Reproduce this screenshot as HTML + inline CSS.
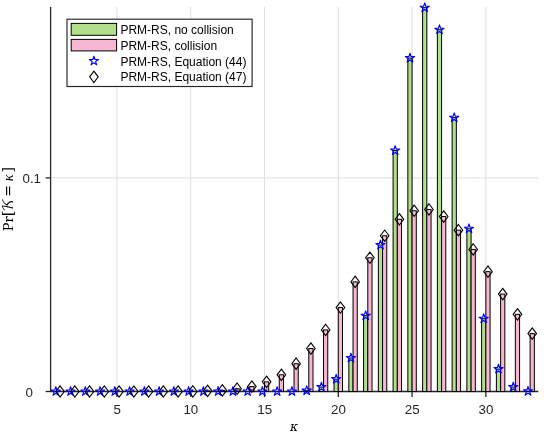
<!DOCTYPE html>
<html><head><meta charset="utf-8"><title>PRM-RS</title>
<style>html,body{margin:0;padding:0;background:#fff}svg{display:block}text{font-family:"Liberation Sans",sans-serif;fill:#262626}.lg{fill:#000}.m{font-family:"Liberation Serif","DejaVu Serif",serif;fill:#000}</style></head><body>
<svg width="550" height="435" viewBox="0 0 550 435">
<rect width="550" height="435" fill="#fff"/>
<g stroke="#dfdfdf" stroke-width="1" fill="none">
<line x1="116.95" y1="7.0" x2="116.95" y2="391.5"/>
<line x1="190.73" y1="7.0" x2="190.73" y2="391.5"/>
<line x1="264.51" y1="7.0" x2="264.51" y2="391.5"/>
<line x1="338.29" y1="7.0" x2="338.29" y2="391.5"/>
<line x1="412.07" y1="7.0" x2="412.07" y2="391.5"/>
<line x1="485.85" y1="7.0" x2="485.85" y2="391.5"/>
<line x1="50.6" y1="177.90" x2="538.3" y2="177.90"/>
</g>
<g stroke="#262626" stroke-width="1.3" fill="none">
<line x1="50.6" y1="7.0" x2="50.6" y2="392.05"/>
<line x1="50.050000000000004" y1="391.5" x2="538.3" y2="391.5"/>
<line x1="116.95" y1="391.5" x2="116.95" y2="397.0"/>
<line x1="190.73" y1="391.5" x2="190.73" y2="397.0"/>
<line x1="264.51" y1="391.5" x2="264.51" y2="397.0"/>
<line x1="338.29" y1="391.5" x2="338.29" y2="397.0"/>
<line x1="412.07" y1="391.5" x2="412.07" y2="397.0"/>
<line x1="485.85" y1="391.5" x2="485.85" y2="397.0"/>
<line x1="50.6" y1="391.50" x2="45.6" y2="391.50"/>
<line x1="50.6" y1="177.90" x2="45.6" y2="177.90"/>
</g>
<g font-size="13.33">
<text x="117.10" y="414.3" text-anchor="middle">5</text>
<text x="190.88" y="414.3" text-anchor="middle">10</text>
<text x="264.66" y="414.3" text-anchor="middle">15</text>
<text x="338.44" y="414.3" text-anchor="middle">20</text>
<text x="412.22" y="414.3" text-anchor="middle">25</text>
<text x="486.00" y="414.3" text-anchor="middle">30</text>
<text x="25.45" y="397.05">0</text>
<text x="22.5" y="183.10">0.1</text>
</g>
<text class="m" x="294.1" y="431.4" font-size="12.3" font-style="italic" text-anchor="middle" style="font-family:'DejaVu Serif','Liberation Serif',serif">κ</text>
<text class="m" transform="translate(12.9,231) rotate(-90)" font-size="13" style="font-family:'DejaVu Serif','Liberation Serif',serif"><tspan x="-0.3">Pr</tspan><tspan x="14.8" dy="0.3" font-size="15">[</tspan><tspan x="19.3" dy="-0.3" font-size="14.5" style="font-family:'DejaVu Math TeX Gyre','DejaVu Serif',serif">𝒦</tspan><tspan x="34.2" font-size="14">=</tspan><tspan x="49.8" font-size="14.5" font-style="italic" style="font-family:'Liberation Serif','DejaVu Serif',serif">κ</tspan><tspan x="58.2" dy="0.3" font-size="15">]</tspan></text>
<g stroke="#000" stroke-width="1">
<rect x="53.71" y="391.50" width="4.22" height="0.00" fill="#b2df8a"/>
<rect x="57.93" y="391.50" width="4.22" height="0.00" fill="#f7b6d2"/>
<rect x="68.46" y="391.50" width="4.22" height="0.00" fill="#b2df8a"/>
<rect x="72.68" y="391.50" width="4.22" height="0.00" fill="#f7b6d2"/>
<rect x="83.22" y="391.50" width="4.22" height="0.00" fill="#b2df8a"/>
<rect x="87.44" y="391.50" width="4.22" height="0.00" fill="#f7b6d2"/>
<rect x="97.97" y="391.50" width="4.22" height="0.00" fill="#b2df8a"/>
<rect x="102.19" y="391.50" width="4.22" height="0.00" fill="#f7b6d2"/>
<rect x="112.73" y="391.50" width="4.22" height="0.00" fill="#b2df8a"/>
<rect x="116.95" y="391.50" width="4.22" height="0.00" fill="#f7b6d2"/>
<rect x="127.49" y="391.50" width="4.22" height="0.00" fill="#b2df8a"/>
<rect x="131.71" y="391.50" width="4.22" height="0.00" fill="#f7b6d2"/>
<rect x="142.24" y="391.50" width="4.22" height="0.00" fill="#b2df8a"/>
<rect x="146.46" y="391.50" width="4.22" height="0.00" fill="#f7b6d2"/>
<rect x="157.00" y="391.50" width="4.22" height="0.00" fill="#b2df8a"/>
<rect x="161.22" y="391.50" width="4.22" height="0.00" fill="#f7b6d2"/>
<rect x="171.75" y="391.50" width="4.22" height="0.00" fill="#b2df8a"/>
<rect x="175.97" y="391.50" width="4.22" height="0.00" fill="#f7b6d2"/>
<rect x="186.51" y="391.50" width="4.22" height="0.00" fill="#b2df8a"/>
<rect x="190.73" y="391.46" width="4.22" height="0.04" fill="#f7b6d2"/>
<rect x="201.27" y="391.50" width="4.22" height="0.00" fill="#b2df8a"/>
<rect x="205.49" y="390.82" width="4.22" height="0.68" fill="#f7b6d2"/>
<rect x="216.02" y="391.50" width="4.22" height="0.00" fill="#b2df8a"/>
<rect x="220.24" y="390.39" width="4.22" height="1.11" fill="#f7b6d2"/>
<rect x="230.78" y="391.50" width="4.22" height="0.00" fill="#b2df8a"/>
<rect x="235.00" y="388.68" width="4.22" height="2.82" fill="#f7b6d2"/>
<rect x="245.53" y="391.50" width="4.22" height="0.00" fill="#b2df8a"/>
<rect x="249.75" y="386.55" width="4.22" height="4.95" fill="#f7b6d2"/>
<rect x="260.29" y="391.50" width="4.22" height="0.00" fill="#b2df8a"/>
<rect x="264.51" y="381.85" width="4.22" height="9.65" fill="#f7b6d2"/>
<rect x="275.05" y="391.50" width="4.22" height="0.00" fill="#b2df8a"/>
<rect x="279.27" y="374.80" width="4.22" height="16.70" fill="#f7b6d2"/>
<rect x="289.80" y="391.50" width="4.22" height="0.00" fill="#b2df8a"/>
<rect x="294.02" y="363.69" width="4.22" height="27.81" fill="#f7b6d2"/>
<rect x="304.56" y="390.67" width="4.22" height="0.83" fill="#b2df8a"/>
<rect x="308.78" y="348.53" width="4.22" height="42.97" fill="#f7b6d2"/>
<rect x="319.31" y="387.04" width="4.22" height="4.46" fill="#b2df8a"/>
<rect x="323.53" y="329.94" width="4.22" height="61.56" fill="#f7b6d2"/>
<rect x="334.07" y="379.13" width="4.22" height="12.37" fill="#b2df8a"/>
<rect x="338.29" y="307.51" width="4.22" height="83.99" fill="#f7b6d2"/>
<rect x="348.83" y="357.99" width="4.22" height="33.51" fill="#b2df8a"/>
<rect x="353.05" y="281.88" width="4.22" height="109.62" fill="#f7b6d2"/>
<rect x="363.58" y="315.69" width="4.22" height="75.81" fill="#b2df8a"/>
<rect x="367.80" y="257.75" width="4.22" height="133.75" fill="#f7b6d2"/>
<rect x="378.34" y="244.99" width="4.22" height="146.51" fill="#b2df8a"/>
<rect x="382.56" y="235.74" width="4.22" height="155.76" fill="#f7b6d2"/>
<rect x="393.09" y="150.58" width="4.22" height="240.92" fill="#b2df8a"/>
<rect x="397.31" y="219.30" width="4.22" height="172.20" fill="#f7b6d2"/>
<rect x="407.85" y="58.09" width="4.22" height="333.41" fill="#b2df8a"/>
<rect x="412.07" y="210.75" width="4.22" height="180.75" fill="#f7b6d2"/>
<rect x="422.61" y="7.68" width="4.22" height="383.82" fill="#b2df8a"/>
<rect x="426.83" y="209.47" width="4.22" height="182.03" fill="#f7b6d2"/>
<rect x="437.36" y="29.68" width="4.22" height="361.82" fill="#b2df8a"/>
<rect x="441.58" y="216.52" width="4.22" height="174.98" fill="#f7b6d2"/>
<rect x="452.12" y="117.69" width="4.22" height="273.81" fill="#b2df8a"/>
<rect x="456.34" y="230.19" width="4.22" height="161.31" fill="#f7b6d2"/>
<rect x="466.87" y="228.76" width="4.22" height="162.74" fill="#b2df8a"/>
<rect x="471.09" y="249.42" width="4.22" height="142.08" fill="#f7b6d2"/>
<rect x="481.63" y="318.69" width="4.22" height="72.81" fill="#b2df8a"/>
<rect x="485.85" y="271.63" width="4.22" height="119.87" fill="#f7b6d2"/>
<rect x="496.39" y="369.09" width="4.22" height="22.41" fill="#b2df8a"/>
<rect x="500.61" y="294.06" width="4.22" height="97.44" fill="#f7b6d2"/>
<rect x="511.14" y="387.04" width="4.22" height="4.46" fill="#b2df8a"/>
<rect x="515.36" y="314.35" width="4.22" height="77.15" fill="#f7b6d2"/>
<rect x="525.90" y="391.31" width="4.22" height="0.19" fill="#b2df8a"/>
<rect x="530.12" y="333.57" width="4.22" height="57.93" fill="#f7b6d2"/>
</g>
<g stroke="#0000ff" stroke-width="1.15" fill="none" stroke-linejoin="round">
<polygon points="55.82,386.70 56.89,390.02 60.38,390.02 57.56,392.07 58.64,395.38 55.82,393.33 52.99,395.38 54.07,392.07 51.25,390.02 54.74,390.02"/>
<polygon points="70.57,386.70 71.65,390.02 75.14,390.02 72.32,392.07 73.39,395.38 70.57,393.33 67.75,395.38 68.83,392.07 66.01,390.02 69.49,390.02"/>
<polygon points="85.33,386.70 86.41,390.02 89.89,390.02 87.07,392.07 88.15,395.38 85.33,393.33 82.51,395.38 83.58,392.07 80.76,390.02 84.25,390.02"/>
<polygon points="100.08,386.70 101.16,390.02 104.65,390.02 101.83,392.07 102.91,395.38 100.08,393.33 97.26,395.38 98.34,392.07 95.52,390.02 99.01,390.02"/>
<polygon points="114.84,386.70 115.92,390.02 119.41,390.02 116.58,392.07 117.66,395.38 114.84,393.33 112.02,395.38 113.10,392.07 110.27,390.02 113.76,390.02"/>
<polygon points="129.60,386.70 130.67,390.02 134.16,390.02 131.34,392.07 132.42,395.38 129.60,393.33 126.77,395.38 127.85,392.07 125.03,390.02 128.52,390.02"/>
<polygon points="144.35,386.70 145.43,390.02 148.92,390.02 146.10,392.07 147.17,395.38 144.35,393.33 141.53,395.38 142.61,392.07 139.79,390.02 143.27,390.02"/>
<polygon points="159.11,386.70 160.19,390.02 163.67,390.02 160.85,392.07 161.93,395.38 159.11,393.33 156.29,395.38 157.36,392.07 154.54,390.02 158.03,390.02"/>
<polygon points="173.86,386.70 174.94,390.02 178.43,390.02 175.61,392.07 176.69,395.38 173.86,393.33 171.04,395.38 172.12,392.07 169.30,390.02 172.79,390.02"/>
<polygon points="188.62,386.70 189.70,390.02 193.19,390.02 190.36,392.07 191.44,395.38 188.62,393.33 185.80,395.38 186.88,392.07 184.05,390.02 187.54,390.02"/>
<polygon points="203.38,386.70 204.45,390.02 207.94,390.02 205.12,392.07 206.20,395.38 203.38,393.33 200.55,395.38 201.63,392.07 198.81,390.02 202.30,390.02"/>
<polygon points="218.13,386.70 219.21,390.02 222.70,390.02 219.88,392.07 220.95,395.38 218.13,393.33 215.31,395.38 216.39,392.07 213.57,390.02 217.05,390.02"/>
<polygon points="232.89,386.70 233.97,390.02 237.45,390.02 234.63,392.07 235.71,395.38 232.89,393.33 230.07,395.38 231.14,392.07 228.32,390.02 231.81,390.02"/>
<polygon points="247.64,386.70 248.72,390.02 252.21,390.02 249.39,392.07 250.47,395.38 247.64,393.33 244.82,395.38 245.90,392.07 243.08,390.02 246.57,390.02"/>
<polygon points="262.40,386.70 263.48,390.02 266.97,390.02 264.14,392.07 265.22,395.38 262.40,393.33 259.58,395.38 260.66,392.07 257.83,390.02 261.32,390.02"/>
<polygon points="277.16,386.70 278.23,390.02 281.72,390.02 278.90,392.07 279.98,395.38 277.16,393.33 274.33,395.38 275.41,392.07 272.59,390.02 276.08,390.02"/>
<polygon points="291.91,386.70 292.99,390.02 296.48,390.02 293.66,392.07 294.73,395.38 291.91,393.33 289.09,395.38 290.17,392.07 287.35,390.02 290.83,390.02"/>
<polygon points="306.67,385.87 307.75,389.18 311.23,389.19 308.41,391.24 309.49,394.55 306.67,392.50 303.85,394.55 304.92,391.24 302.10,389.19 305.59,389.18"/>
<polygon points="321.42,382.24 322.50,385.55 325.99,385.55 323.17,387.60 324.25,390.92 321.42,388.87 318.60,390.92 319.68,387.60 316.86,385.55 320.35,385.55"/>
<polygon points="336.18,374.33 337.26,377.65 340.75,377.65 337.92,379.70 339.00,383.02 336.18,380.97 333.36,383.02 334.44,379.70 331.61,377.65 335.10,377.65"/>
<polygon points="350.94,353.19 352.01,356.50 355.50,356.50 352.68,358.55 353.76,361.87 350.94,359.82 348.11,361.87 349.19,358.55 346.37,356.50 349.86,356.50"/>
<polygon points="365.69,310.89 366.77,314.21 370.26,314.21 367.44,316.26 368.51,319.58 365.69,317.53 362.87,319.58 363.95,316.26 361.13,314.21 364.61,314.21"/>
<polygon points="380.45,240.19 381.53,243.51 385.01,243.51 382.19,245.56 383.27,248.88 380.45,246.83 377.63,248.88 378.70,245.56 375.88,243.51 379.37,243.51"/>
<polygon points="395.20,145.78 396.28,149.10 399.77,149.10 396.95,151.15 398.03,154.47 395.20,152.42 392.38,154.47 393.46,151.15 390.64,149.10 394.13,149.10"/>
<polygon points="409.96,53.29 411.04,56.61 414.53,56.61 411.70,58.66 412.78,61.98 409.96,59.93 407.14,61.98 408.22,58.66 405.39,56.61 408.88,56.61"/>
<polygon points="424.72,2.88 425.79,6.20 429.28,6.20 426.46,8.25 427.54,11.57 424.72,9.52 421.89,11.57 422.97,8.25 420.15,6.20 423.64,6.20"/>
<polygon points="439.47,24.88 440.55,28.20 444.04,28.20 441.22,30.25 442.29,33.57 439.47,31.52 436.65,33.57 437.73,30.25 434.91,28.20 438.39,28.20"/>
<polygon points="454.23,112.89 455.31,116.20 458.79,116.20 455.97,118.25 457.05,121.57 454.23,119.52 451.41,121.57 452.48,118.25 449.66,116.20 453.15,116.20"/>
<polygon points="468.98,223.96 470.06,227.28 473.55,227.28 470.73,229.33 471.81,232.64 468.98,230.59 466.16,232.64 467.24,229.33 464.42,227.28 467.91,227.28"/>
<polygon points="483.74,313.89 484.82,317.20 488.31,317.20 485.48,319.25 486.56,322.57 483.74,320.52 480.92,322.57 482.00,319.25 479.17,317.20 482.66,317.20"/>
<polygon points="498.50,364.29 499.57,367.61 503.06,367.61 500.24,369.66 501.32,372.98 498.50,370.93 495.67,372.98 496.75,369.66 493.93,367.61 497.42,367.61"/>
<polygon points="513.25,382.24 514.33,385.55 517.82,385.55 515.00,387.60 516.07,390.92 513.25,388.87 510.43,390.92 511.51,387.60 508.69,385.55 512.17,385.55"/>
<polygon points="528.01,386.51 529.09,389.83 532.57,389.83 529.75,391.88 530.83,395.19 528.01,393.14 525.19,395.19 526.26,391.88 523.44,389.83 526.93,389.83"/>
</g>
<g stroke="#000" stroke-width="1.1" fill="none">
<polygon points="60.04,385.80 64.34,391.50 60.04,397.20 55.74,391.50"/>
<polygon points="74.79,385.80 79.09,391.50 74.79,397.20 70.49,391.50"/>
<polygon points="89.55,385.80 93.85,391.50 89.55,397.20 85.25,391.50"/>
<polygon points="104.30,385.80 108.60,391.50 104.30,397.20 100.00,391.50"/>
<polygon points="119.06,385.80 123.36,391.50 119.06,397.20 114.76,391.50"/>
<polygon points="133.82,385.80 138.12,391.50 133.82,397.20 129.52,391.50"/>
<polygon points="148.57,385.80 152.87,391.50 148.57,397.20 144.27,391.50"/>
<polygon points="163.33,385.80 167.63,391.50 163.33,397.20 159.03,391.50"/>
<polygon points="178.08,385.80 182.38,391.50 178.08,397.20 173.78,391.50"/>
<polygon points="192.84,385.76 197.14,391.46 192.84,397.16 188.54,391.46"/>
<polygon points="207.60,385.12 211.90,390.82 207.60,396.52 203.30,390.82"/>
<polygon points="222.35,384.69 226.65,390.39 222.35,396.09 218.05,390.39"/>
<polygon points="237.11,382.98 241.41,388.68 237.11,394.38 232.81,388.68"/>
<polygon points="251.86,380.85 256.16,386.55 251.86,392.25 247.56,386.55"/>
<polygon points="266.62,376.15 270.92,381.85 266.62,387.55 262.32,381.85"/>
<polygon points="281.38,369.10 285.68,374.80 281.38,380.50 277.08,374.80"/>
<polygon points="296.13,357.99 300.43,363.69 296.13,369.39 291.83,363.69"/>
<polygon points="310.89,342.83 315.19,348.53 310.89,354.23 306.59,348.53"/>
<polygon points="325.64,324.24 329.94,329.94 325.64,335.64 321.34,329.94"/>
<polygon points="340.40,301.81 344.70,307.51 340.40,313.21 336.10,307.51"/>
<polygon points="355.16,276.18 359.46,281.88 355.16,287.58 350.86,281.88"/>
<polygon points="369.91,252.05 374.21,257.75 369.91,263.45 365.61,257.75"/>
<polygon points="384.67,230.04 388.97,235.74 384.67,241.44 380.37,235.74"/>
<polygon points="399.42,213.60 403.72,219.30 399.42,225.00 395.12,219.30"/>
<polygon points="414.18,205.05 418.48,210.75 414.18,216.45 409.88,210.75"/>
<polygon points="428.94,203.77 433.24,209.47 428.94,215.17 424.64,209.47"/>
<polygon points="443.69,210.82 447.99,216.52 443.69,222.22 439.39,216.52"/>
<polygon points="458.45,224.49 462.75,230.19 458.45,235.89 454.15,230.19"/>
<polygon points="473.20,243.72 477.50,249.42 473.20,255.12 468.90,249.42"/>
<polygon points="487.96,265.93 492.26,271.63 487.96,277.33 483.66,271.63"/>
<polygon points="502.72,288.36 507.02,294.06 502.72,299.76 498.42,294.06"/>
<polygon points="517.47,308.65 521.77,314.35 517.47,320.05 513.17,314.35"/>
<polygon points="532.23,327.87 536.53,333.57 532.23,339.27 527.93,333.57"/>
</g>
<rect x="67.0" y="19.2" width="185.1" height="67.3" fill="#fff" stroke="#262626" stroke-width="1.15"/>
<rect x="71.2" y="23.4" width="45.4" height="11.9" fill="#b2df8a" stroke="#000" stroke-width="1"/>
<rect x="71.2" y="39.4" width="45.4" height="11.5" fill="#f7b6d2" stroke="#000" stroke-width="1"/>
<g stroke="#0000ff" stroke-width="1.15" fill="none" stroke-linejoin="round"><polygon points="93.90,56.20 94.98,59.52 98.47,59.52 95.64,61.57 96.72,64.88 93.90,62.83 91.08,64.88 92.16,61.57 89.33,59.52 92.82,59.52"/></g>
<g stroke="#000" stroke-width="1.1" fill="none"><polygon points="93.90,71.10 98.20,76.80 93.90,82.50 89.60,76.80"/></g>
<g font-size="12" style="fill:#000">
<text class="lg" x="120.4" y="33.50">PRM-RS, no collision</text>
<text class="lg" x="120.4" y="49.70">PRM-RS, collision</text>
<text class="lg" x="120.4" y="65.80">PRM-RS, Equation (44)</text>
<text class="lg" x="120.4" y="81.30">PRM-RS, Equation (47)</text>
</g>
</svg></body></html>
